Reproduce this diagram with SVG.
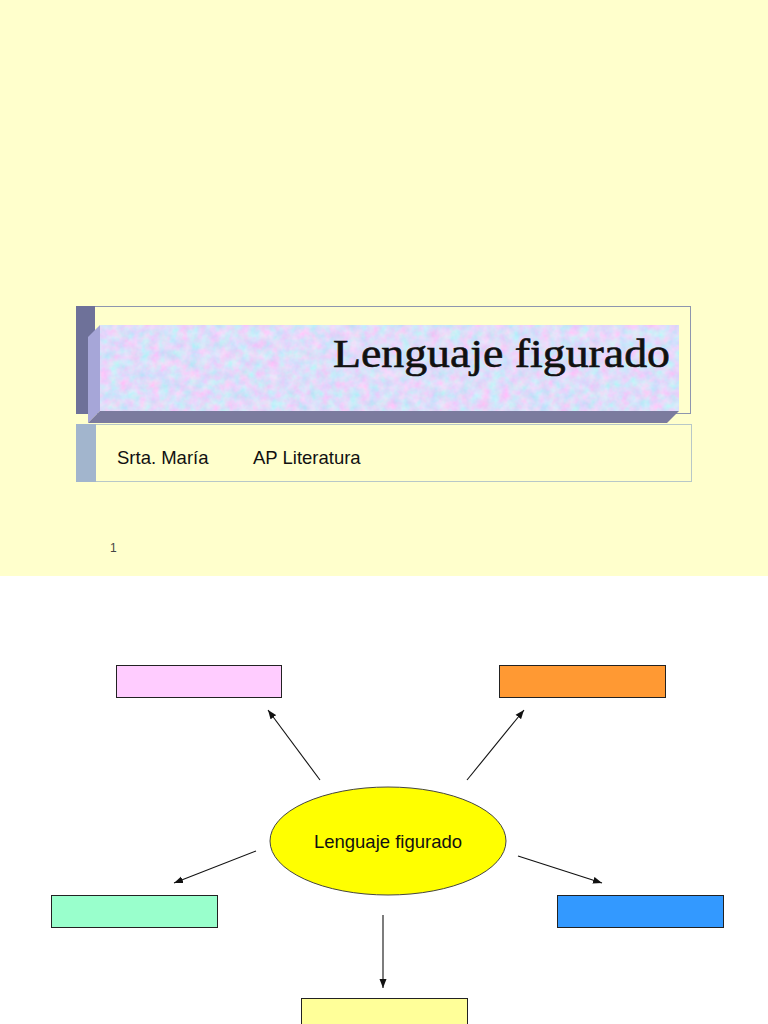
<svg xmlns="http://www.w3.org/2000/svg" width="768" height="1024" viewBox="0 0 768 1024">
<style>
.box{stroke:#222;stroke-width:1}
.conn{stroke:#111;stroke-width:1.1;fill:none;marker-end:url(#arr)}
.sans{font-family:"Liberation Sans",Arial,sans-serif;fill:#111}
</style>
<defs>
<marker id="arr" markerWidth="10" markerHeight="8" refX="9" refY="4" orient="auto" markerUnits="userSpaceOnUse">
<path d="M0,0.5 L9,4 L0,7.5 Z" fill="#111"/>
</marker>
<filter id="tex" x="0" y="0" width="1" height="1">
<feTurbulence type="fractalNoise" baseFrequency="0.1" numOctaves="3" seed="4" result="n"/>
<feColorMatrix in="n" type="matrix" values="0.7 0 0 0 0.38  -0.35 0.3 0 0 0.75  0 0 0.1 0 0.9  0 0 0 0 1" result="c"/>
<feComposite in="c" in2="SourceGraphic" operator="in"/>
</filter>
</defs>
<rect x="0" y="0" width="768" height="576" fill="#FFFFCC"/>
<rect x="0" y="576" width="768" height="448" fill="#FFFFFF"/>
<g id="title-slide">
<rect x="76.5" y="306.5" width="614" height="107" fill="none" stroke="#8E96AE" stroke-width="1"/>
<rect x="76" y="306" width="19" height="108" fill="#6E7199"/>
<rect x="100" y="325" width="579" height="86" fill="#C0D0F0" filter="url(#tex)"/>
<polygon points="100,325 88,337 88,423 100,411" fill="#A6A6D8"/>
<polygon points="100,411 679,411 667,423 88,423" fill="#7B7B9E"/>
<text x="670" y="367" text-anchor="end" font-family="'Liberation Serif','DejaVu Serif',serif" font-size="39" fill="#111" stroke="#111" stroke-width="0.6" textLength="337" lengthAdjust="spacingAndGlyphs">Lenguaje figurado</text>
<rect x="76.5" y="424.5" width="615" height="57" fill="none" stroke="#B8C8C8" stroke-width="1"/>
<rect x="76" y="424" width="20" height="58" fill="#A2B5CD"/>
<text x="117" y="464" class="sans" font-size="18.5">Srta. María</text>
<text x="253" y="464" class="sans" font-size="18.5">AP Literatura</text>
<text x="110" y="552" font-family="'Liberation Sans',Arial,sans-serif" font-size="12" fill="#444">1</text>
</g>
<g id="connectors">
<line class="conn" x1="320" y1="780" x2="268" y2="710"/>
<line class="conn" x1="467" y1="780" x2="524" y2="710"/>
<line class="conn" x1="256" y1="851" x2="174" y2="883"/>
<line class="conn" x1="518" y1="856" x2="602" y2="883"/>
<line class="conn" x1="383" y1="915" x2="383" y2="988"/>
</g>
<g id="center">
<ellipse cx="388" cy="841" rx="118" ry="54" fill="#FFFF00" stroke="#444" stroke-width="1"/>
<text x="388" y="848" text-anchor="middle" class="sans" font-size="18.5">Lenguaje figurado</text>
</g>
<g id="box-pink"><rect class="box" x="116.5" y="665.5" width="165" height="32" fill="#FFCCFF"/></g>
<g id="box-orange"><rect class="box" x="499.5" y="665.5" width="166" height="32" fill="#FF9933"/></g>
<g id="box-green"><rect class="box" x="51.5" y="895.5" width="166" height="32" fill="#99FFCC"/></g>
<g id="box-blue"><rect class="box" x="557.5" y="895.5" width="166" height="32" fill="#3399FF"/></g>
<g id="box-yellow"><rect class="box" x="301.5" y="998.5" width="166" height="32" fill="#FFFF99"/></g>
</svg>
